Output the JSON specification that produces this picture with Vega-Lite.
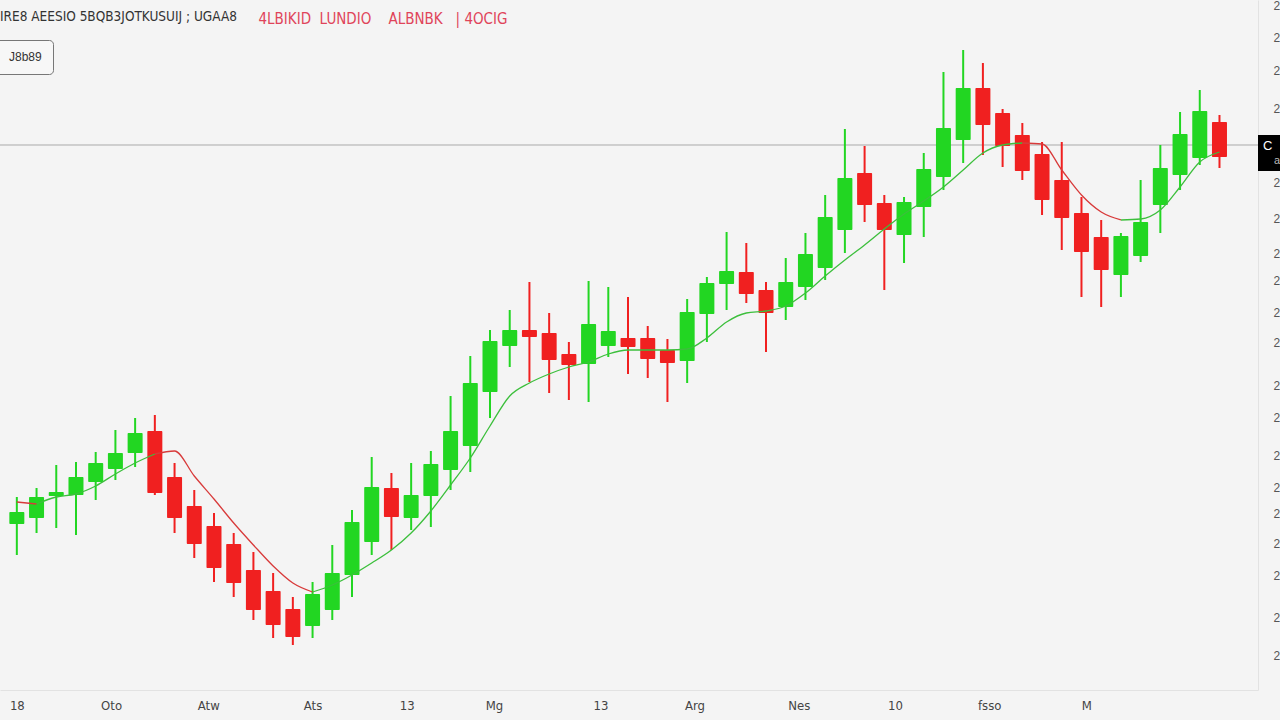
{
  "$schema": "https://vega.github.io/schema/vega-lite/v6.json",
  "width": 1258,
  "height": 690,
  "autosize": {"type": "none"},
  "padding": {"left": 0, "top": 0, "right": 22, "bottom": 30},
  "background": "#f4f4f4",
  "config": {"view": {"stroke": null}, "font": "Liberation Sans"},
  "title": {"text": "IRE8 AEESIO 5BQB3JOTKUSUIJ ; UGAA8", "anchor": "start", "frame": "group", "orient": "top", "offset": 0, "dy": 35, "baseline": "alphabetic", "fontSize": 13.5, "fontWeight": "normal", "color": "#333333", "font": "DejaVu Sans Condensed, sans-serif"},
  "datasets": {
    "candles": [
      {"i":0,"o":2176,"h":2203,"l":2145,"c":2188,"d":"up"},
      {"i":1,"o":2182,"h":2212,"l":2167,"c":2203,"d":"up"},
      {"i":2,"o":2204,"h":2235,"l":2172,"c":2208,"d":"up"},
      {"i":3,"o":2205,"h":2238,"l":2165,"c":2223,"d":"up"},
      {"i":4,"o":2218,"h":2248,"l":2200,"c":2237,"d":"up"},
      {"i":5,"o":2231,"h":2270,"l":2220,"c":2247,"d":"up"},
      {"i":6,"o":2247,"h":2282,"l":2233,"c":2267,"d":"up"},
      {"i":7,"o":2269,"h":2285,"l":2205,"c":2207,"d":"down"},
      {"i":8,"o":2223,"h":2237,"l":2167,"c":2182,"d":"down"},
      {"i":9,"o":2194,"h":2210,"l":2142,"c":2156,"d":"down"},
      {"i":10,"o":2174,"h":2187,"l":2118,"c":2132,"d":"down"},
      {"i":11,"o":2156,"h":2167,"l":2103,"c":2117,"d":"down"},
      {"i":12,"o":2130,"h":2148,"l":2080,"c":2090,"d":"down"},
      {"i":13,"o":2109,"h":2127,"l":2062,"c":2075,"d":"down"},
      {"i":14,"o":2091,"h":2103,"l":2055,"c":2063,"d":"down"},
      {"i":15,"o":2074,"h":2118,"l":2062,"c":2106,"d":"up"},
      {"i":16,"o":2090,"h":2155,"l":2080,"c":2127,"d":"up"},
      {"i":17,"o":2125,"h":2190,"l":2103,"c":2178,"d":"up"},
      {"i":18,"o":2158,"h":2243,"l":2145,"c":2213,"d":"up"},
      {"i":19,"o":2212,"h":2227,"l":2150,"c":2183,"d":"down"},
      {"i":20,"o":2182,"h":2237,"l":2170,"c":2205,"d":"up"},
      {"i":21,"o":2204,"h":2249,"l":2173,"c":2236,"d":"up"},
      {"i":22,"o":2230,"h":2304,"l":2210,"c":2269,"d":"up"},
      {"i":23,"o":2254,"h":2344,"l":2228,"c":2317,"d":"up"},
      {"i":24,"o":2308,"h":2370,"l":2282,"c":2359,"d":"up"},
      {"i":25,"o":2354,"h":2390,"l":2333,"c":2370,"d":"up"},
      {"i":26,"o":2370,"h":2418,"l":2318,"c":2363,"d":"down"},
      {"i":27,"o":2367,"h":2387,"l":2307,"c":2340,"d":"down"},
      {"i":28,"o":2346,"h":2358,"l":2300,"c":2335,"d":"down"},
      {"i":29,"o":2336,"h":2419,"l":2298,"c":2376,"d":"up"},
      {"i":30,"o":2354,"h":2413,"l":2343,"c":2369,"d":"up"},
      {"i":31,"o":2362,"h":2403,"l":2326,"c":2353,"d":"down"},
      {"i":32,"o":2362,"h":2374,"l":2322,"c":2341,"d":"down"},
      {"i":33,"o":2350,"h":2361,"l":2298,"c":2337,"d":"down"},
      {"i":34,"o":2339,"h":2401,"l":2317,"c":2388,"d":"up"},
      {"i":35,"o":2386,"h":2423,"l":2358,"c":2417,"d":"up"},
      {"i":36,"o":2416,"h":2468,"l":2390,"c":2429,"d":"up"},
      {"i":37,"o":2428,"h":2457,"l":2397,"c":2406,"d":"down"},
      {"i":38,"o":2410,"h":2418,"l":2348,"c":2387,"d":"down"},
      {"i":39,"o":2393,"h":2442,"l":2380,"c":2418,"d":"up"},
      {"i":40,"o":2413,"h":2467,"l":2400,"c":2446,"d":"up"},
      {"i":41,"o":2432,"h":2505,"l":2420,"c":2483,"d":"up"},
      {"i":42,"o":2470,"h":2571,"l":2447,"c":2522,"d":"up"},
      {"i":43,"o":2527,"h":2554,"l":2478,"c":2495,"d":"down"},
      {"i":44,"o":2497,"h":2505,"l":2410,"c":2470,"d":"down"},
      {"i":45,"o":2465,"h":2503,"l":2437,"c":2498,"d":"up"},
      {"i":46,"o":2493,"h":2547,"l":2463,"c":2531,"d":"up"},
      {"i":47,"o":2523,"h":2628,"l":2510,"c":2572,"d":"up"},
      {"i":48,"o":2560,"h":2650,"l":2537,"c":2612,"d":"up"},
      {"i":49,"o":2612,"h":2637,"l":2545,"c":2575,"d":"down"},
      {"i":50,"o":2587,"h":2591,"l":2533,"c":2554,"d":"down"},
      {"i":51,"o":2565,"h":2577,"l":2520,"c":2529,"d":"down"},
      {"i":52,"o":2546,"h":2558,"l":2485,"c":2500,"d":"down"},
      {"i":53,"o":2520,"h":2558,"l":2450,"c":2482,"d":"down"},
      {"i":54,"o":2487,"h":2503,"l":2403,"c":2448,"d":"down"},
      {"i":55,"o":2463,"h":2480,"l":2393,"c":2430,"d":"down"},
      {"i":56,"o":2425,"h":2467,"l":2403,"c":2464,"d":"up"},
      {"i":57,"o":2444,"h":2520,"l":2438,"c":2478,"d":"up"},
      {"i":58,"o":2495,"h":2555,"l":2467,"c":2532,"d":"up"},
      {"i":59,"o":2525,"h":2588,"l":2510,"c":2566,"d":"up"},
      {"i":60,"o":2542,"h":2610,"l":2535,"c":2589,"d":"up"},
      {"i":61,"o":2578,"h":2585,"l":2532,"c":2543,"d":"down"}
    ],
    "ma": [
      {"i":0,"ma":2198,"seg":"A","t":"down"},{"i":1,"ma":2196,"seg":"A","t":"down"},
      {"i":1,"ma":2196,"seg":"B","t":"up"},{"i":2,"ma":2203,"seg":"B","t":"up"},{"i":3,"ma":2206,"seg":"B","t":"up"},{"i":4,"ma":2214,"seg":"B","t":"up"},{"i":5,"ma":2226,"seg":"B","t":"up"},{"i":6,"ma":2237,"seg":"B","t":"up"},{"i":7,"ma":2246,"seg":"B","t":"up"},
      {"i":7,"ma":2246,"seg":"C","t":"down"},{"i":8,"ma":2249,"seg":"C","t":"down"},{"i":9,"ma":2224,"seg":"C","t":"down"},{"i":10,"ma":2201,"seg":"C","t":"down"},{"i":11,"ma":2177,"seg":"C","t":"down"},{"i":12,"ma":2155,"seg":"C","t":"down"},{"i":13,"ma":2134,"seg":"C","t":"down"},{"i":14,"ma":2117,"seg":"C","t":"down"},{"i":15,"ma":2108,"seg":"C","t":"down"},
      {"i":15,"ma":2108,"seg":"D","t":"up"},{"i":16,"ma":2115,"seg":"D","t":"up"},{"i":17,"ma":2125,"seg":"D","t":"up"},{"i":18,"ma":2137,"seg":"D","t":"up"},{"i":19,"ma":2150,"seg":"D","t":"up"},{"i":20,"ma":2167,"seg":"D","t":"up"},{"i":21,"ma":2189,"seg":"D","t":"up"},{"i":22,"ma":2215,"seg":"D","t":"up"},{"i":23,"ma":2242,"seg":"D","t":"up"},{"i":24,"ma":2274,"seg":"D","t":"up"},{"i":25,"ma":2304,"seg":"D","t":"up"},{"i":26,"ma":2317,"seg":"D","t":"up"},{"i":27,"ma":2326,"seg":"D","t":"up"},{"i":28,"ma":2333,"seg":"D","t":"up"},{"i":29,"ma":2338,"seg":"D","t":"up"},{"i":30,"ma":2346,"seg":"D","t":"up"},{"i":31,"ma":2350,"seg":"D","t":"up"},{"i":32,"ma":2350,"seg":"D","t":"up"},{"i":33,"ma":2350,"seg":"D","t":"up"},{"i":34,"ma":2351,"seg":"D","t":"up"},{"i":35,"ma":2362,"seg":"D","t":"up"},{"i":36,"ma":2378,"seg":"D","t":"up"},{"i":37,"ma":2387,"seg":"D","t":"up"},{"i":38,"ma":2389,"seg":"D","t":"up"},{"i":39,"ma":2394,"seg":"D","t":"up"},{"i":40,"ma":2407,"seg":"D","t":"up"},{"i":41,"ma":2424,"seg":"D","t":"up"},{"i":42,"ma":2440,"seg":"D","t":"up"},{"i":43,"ma":2455,"seg":"D","t":"up"},{"i":44,"ma":2471,"seg":"D","t":"up"},{"i":45,"ma":2486,"seg":"D","t":"up"},{"i":46,"ma":2499,"seg":"D","t":"up"},{"i":47,"ma":2513,"seg":"D","t":"up"},{"i":48,"ma":2530,"seg":"D","t":"up"},{"i":49,"ma":2547,"seg":"D","t":"up"},{"i":50,"ma":2555,"seg":"D","t":"up"},{"i":51,"ma":2557,"seg":"D","t":"up"},
      {"i":51,"ma":2557,"seg":"E","t":"down"},{"i":52,"ma":2556,"seg":"E","t":"down"},{"i":53,"ma":2530,"seg":"E","t":"down"},{"i":54,"ma":2505,"seg":"E","t":"down"},{"i":55,"ma":2488,"seg":"E","t":"down"},{"i":56,"ma":2480,"seg":"E","t":"down"},
      {"i":56,"ma":2480,"seg":"F","t":"up"},{"i":57,"ma":2481,"seg":"F","t":"up"},{"i":58,"ma":2490,"seg":"F","t":"up"},{"i":59,"ma":2513,"seg":"F","t":"up"},{"i":60,"ma":2538,"seg":"F","t":"up"},{"i":61,"ma":2548,"seg":"F","t":"up"}
    ],
    "level": [{"price": 2555, "lbl": "J8b89", "tag": "a"}]
  },
  "layer": [
    {
      "data": {"name": "level"},
      "mark": {"type": "rule", "color": "#a9a9a9", "strokeWidth": 1},
      "encoding": {
        "y": {"field": "price", "type": "quantitative", "scale": {"domain": [2010, 2700], "nice": false, "zero": false},
          "axis": {"orient": "right", "title": null, "grid": false, "ticks": false, "domainColor": "#e2e2e2", "labelPadding": 15, "labelFontSize": 12, "labelColor": "#555555", "format": "d", "labelOverlap": false, "labelBound": false, "tickCount": 50,
            "values": [2695, 2663, 2630, 2592, 2518, 2482, 2447, 2420, 2388, 2358, 2315, 2283, 2245, 2213, 2187, 2157, 2125, 2083, 2045]}},
        "strokeDash": {"field": "lbl", "type": "nominal", "scale": {"range": [[1, 0]]},
          "legend": {"orient": "none", "legendX": -14, "legendY": 40, "title": null, "symbolSize": 0, "symbolStrokeWidth": 0, "labelOffset": 0, "labelFontSize": 12, "labelColor": "#333333", "strokeColor": "#777777", "fillColor": "#f7f7f7", "cornerRadius": 4, "padding": 11}},
        "opacity": {"field": "tag", "type": "ordinal", "scale": {"range": [1]},
          "legend": {"orient": "none", "legendX": 1258, "legendY": 135, "title": "C", "titleColor": "#ffffff", "titleFontSize": 13, "titleFontWeight": "normal", "titlePadding": 2, "symbolSize": 0, "symbolOpacity": 0, "labelOffset": 0, "labelFontSize": 11, "labelColor": "#bbbbbb", "fillColor": "#000000", "padding": 5}}
      }
    },
    {
      "data": {"name": "candles"},
      "mark": {"type": "rule", "strokeWidth": 2},
      "encoding": {
        "x": {"field": "i", "type": "quantitative", "scale": {"domain": [-0.6, 62.7], "nice": false, "zero": false},
          "axis": {"orient": "bottom", "title": null, "grid": false, "ticks": false, "domainColor": "#e2e2e2", "labelPadding": 9, "labelFontSize": 13, "labelColor": "#444444", "labelFont": "DejaVu Sans Condensed, sans-serif", "tickCount": 50,
            "values": [0, 4.78, 9.71, 15.0, 19.78, 24.2, 29.6, 34.37, 39.66, 44.54, 49.32, 54.25],
            "labelExpr": "['18','Oto','Atw','Ats','13','Mg','13','Arg','Nes','10','fsso','M'][indexof([0, 4.78, 9.71, 15.0, 19.78, 24.2, 29.6, 34.37, 39.66, 44.54, 49.32, 54.25], datum.value)]"}},
        "y": {"field": "l", "type": "quantitative"},
        "y2": {"field": "h"},
        "color": {"field": "d", "type": "nominal", "scale": {"domain": ["up", "down"], "range": ["#22d622", "#f02020"]}, "legend": null}
      }
    },
    {
      "data": {"name": "candles"},
      "mark": {"type": "bar", "size": 15, "cornerRadius": 1},
      "encoding": {
        "x": {"field": "i", "type": "quantitative", "axis": null},
        "y": {"field": "o", "type": "quantitative"},
        "y2": {"field": "c"},
        "color": {"field": "d", "type": "nominal", "legend": null}
      }
    },
    {
      "data": {"name": "ma"},
      "mark": {"type": "line", "strokeWidth": 1.3, "interpolate": "monotone"},
      "encoding": {
        "x": {"field": "i", "type": "quantitative",
          "axis": {"orient": "top", "labels": false, "ticks": false, "domain": false, "grid": false,
            "title": "4LBIKID\u00a0\u00a0LUNDIO\u00a0\u00a0\u00a0\u00a0ALBNBK\u00a0\u00a0\u00a0|\u00a04OCIG", "titleX": 258, "titleY": 23, "titleAlign": "left", "titleAnchor": "start", "titleBaseline": "alphabetic", "titleAngle": 0, "titleFontSize": 15, "titleFontWeight": "normal", "titleColor": "#e0445a", "titleFont": "DejaVu Sans Condensed, sans-serif"}},
        "y": {"field": "ma", "type": "quantitative"},
        "detail": {"field": "seg", "type": "nominal"},
        "stroke": {"field": "t", "type": "nominal", "scale": {"domain": ["up", "down"], "range": ["#3cbf3c", "#d83a3a"]}, "legend": null}
      }
    }
  ],
  "resolve": {"axis": {"x": "independent"}}
}
